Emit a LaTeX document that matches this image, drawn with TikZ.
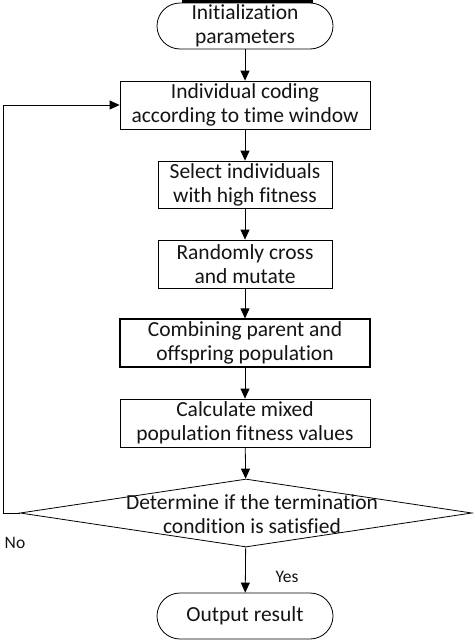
\documentclass[tikz,border=0pt]{standalone}
\usepackage{fontspec}
\setmainfont{Carlito}[Ligatures=NoCommon]
\usetikzlibrary{arrows.meta,shapes.geometric}
\begin{document}
\begin{tikzpicture}[x=1pt,y=-1pt,
  txt/.style={font=\fontsize{21.5}{24}\selectfont,text=black!92,align=center},
  boxstyle/.style={draw,line width=0.8pt,inner sep=0pt,txt},
  term/.style={boxstyle,rounded corners=23pt,minimum width=176pt,minimum height=46pt},
  arr/.style={line width=0.8pt,-{Triangle[length=10pt,width=9pt]}},
  lbl/.style={font=\fontsize{17.5}{20}\selectfont,text=black!92,inner sep=0pt}
]
\useasboundingbox (0,0) rectangle (474,640);
\clip (0,0) rectangle (474,640);
\fill[black] (182,0) rectangle (313,3);
\node[term] (start) at (245,26) {Initialization\\parameters};
\node[boxstyle,minimum width=250pt,minimum height=48pt] (b1) at (245,105) {Individual coding\\according to time window};
\node[boxstyle,minimum width=174pt,minimum height=47pt] (b2) at (245,184.5) {Select individuals\\with high fitness};
\node[boxstyle,minimum width=174pt,minimum height=48pt] (b3) at (245,264) {Randomly cross\\and mutate};
\node[boxstyle,line width=1.2pt,minimum width=250pt,minimum height=48pt] (b4) at (245,343) {Combining parent and\\offspring population};
\node[boxstyle,minimum width=250pt,minimum height=48pt] (b5) at (245,423) {Calculate mixed\\population fitness values};
\node[draw,line width=0.8pt,diamond,inner sep=0pt,minimum width=452pt,minimum height=68pt] (dec) at (246,513) {};
\node[txt,inner sep=0pt] (dect) at (252,514) {Determine if the termination\\condition is satisfied};
\node[term] (end) at (245,616) {Output result};
\coordinate (lp) at (3,513);
\draw[arr] (start) -- (b1);
\draw[arr] (b1) -- (b2);
\draw[arr] (b2) -- (b3);
\draw[arr] (b3) -- (b4);
\draw[arr] (b4) -- (b5);
\draw[arr] (b5) -- (dec);
\draw[arr] (dec) -- (end);
\draw[arr] (dec.west) -- (lp) |- (b1.west);
\node[lbl] (no) at (15,543) {No};
\node[lbl] (yes) at (287,577) {Yes};
\end{tikzpicture}
\end{document}
